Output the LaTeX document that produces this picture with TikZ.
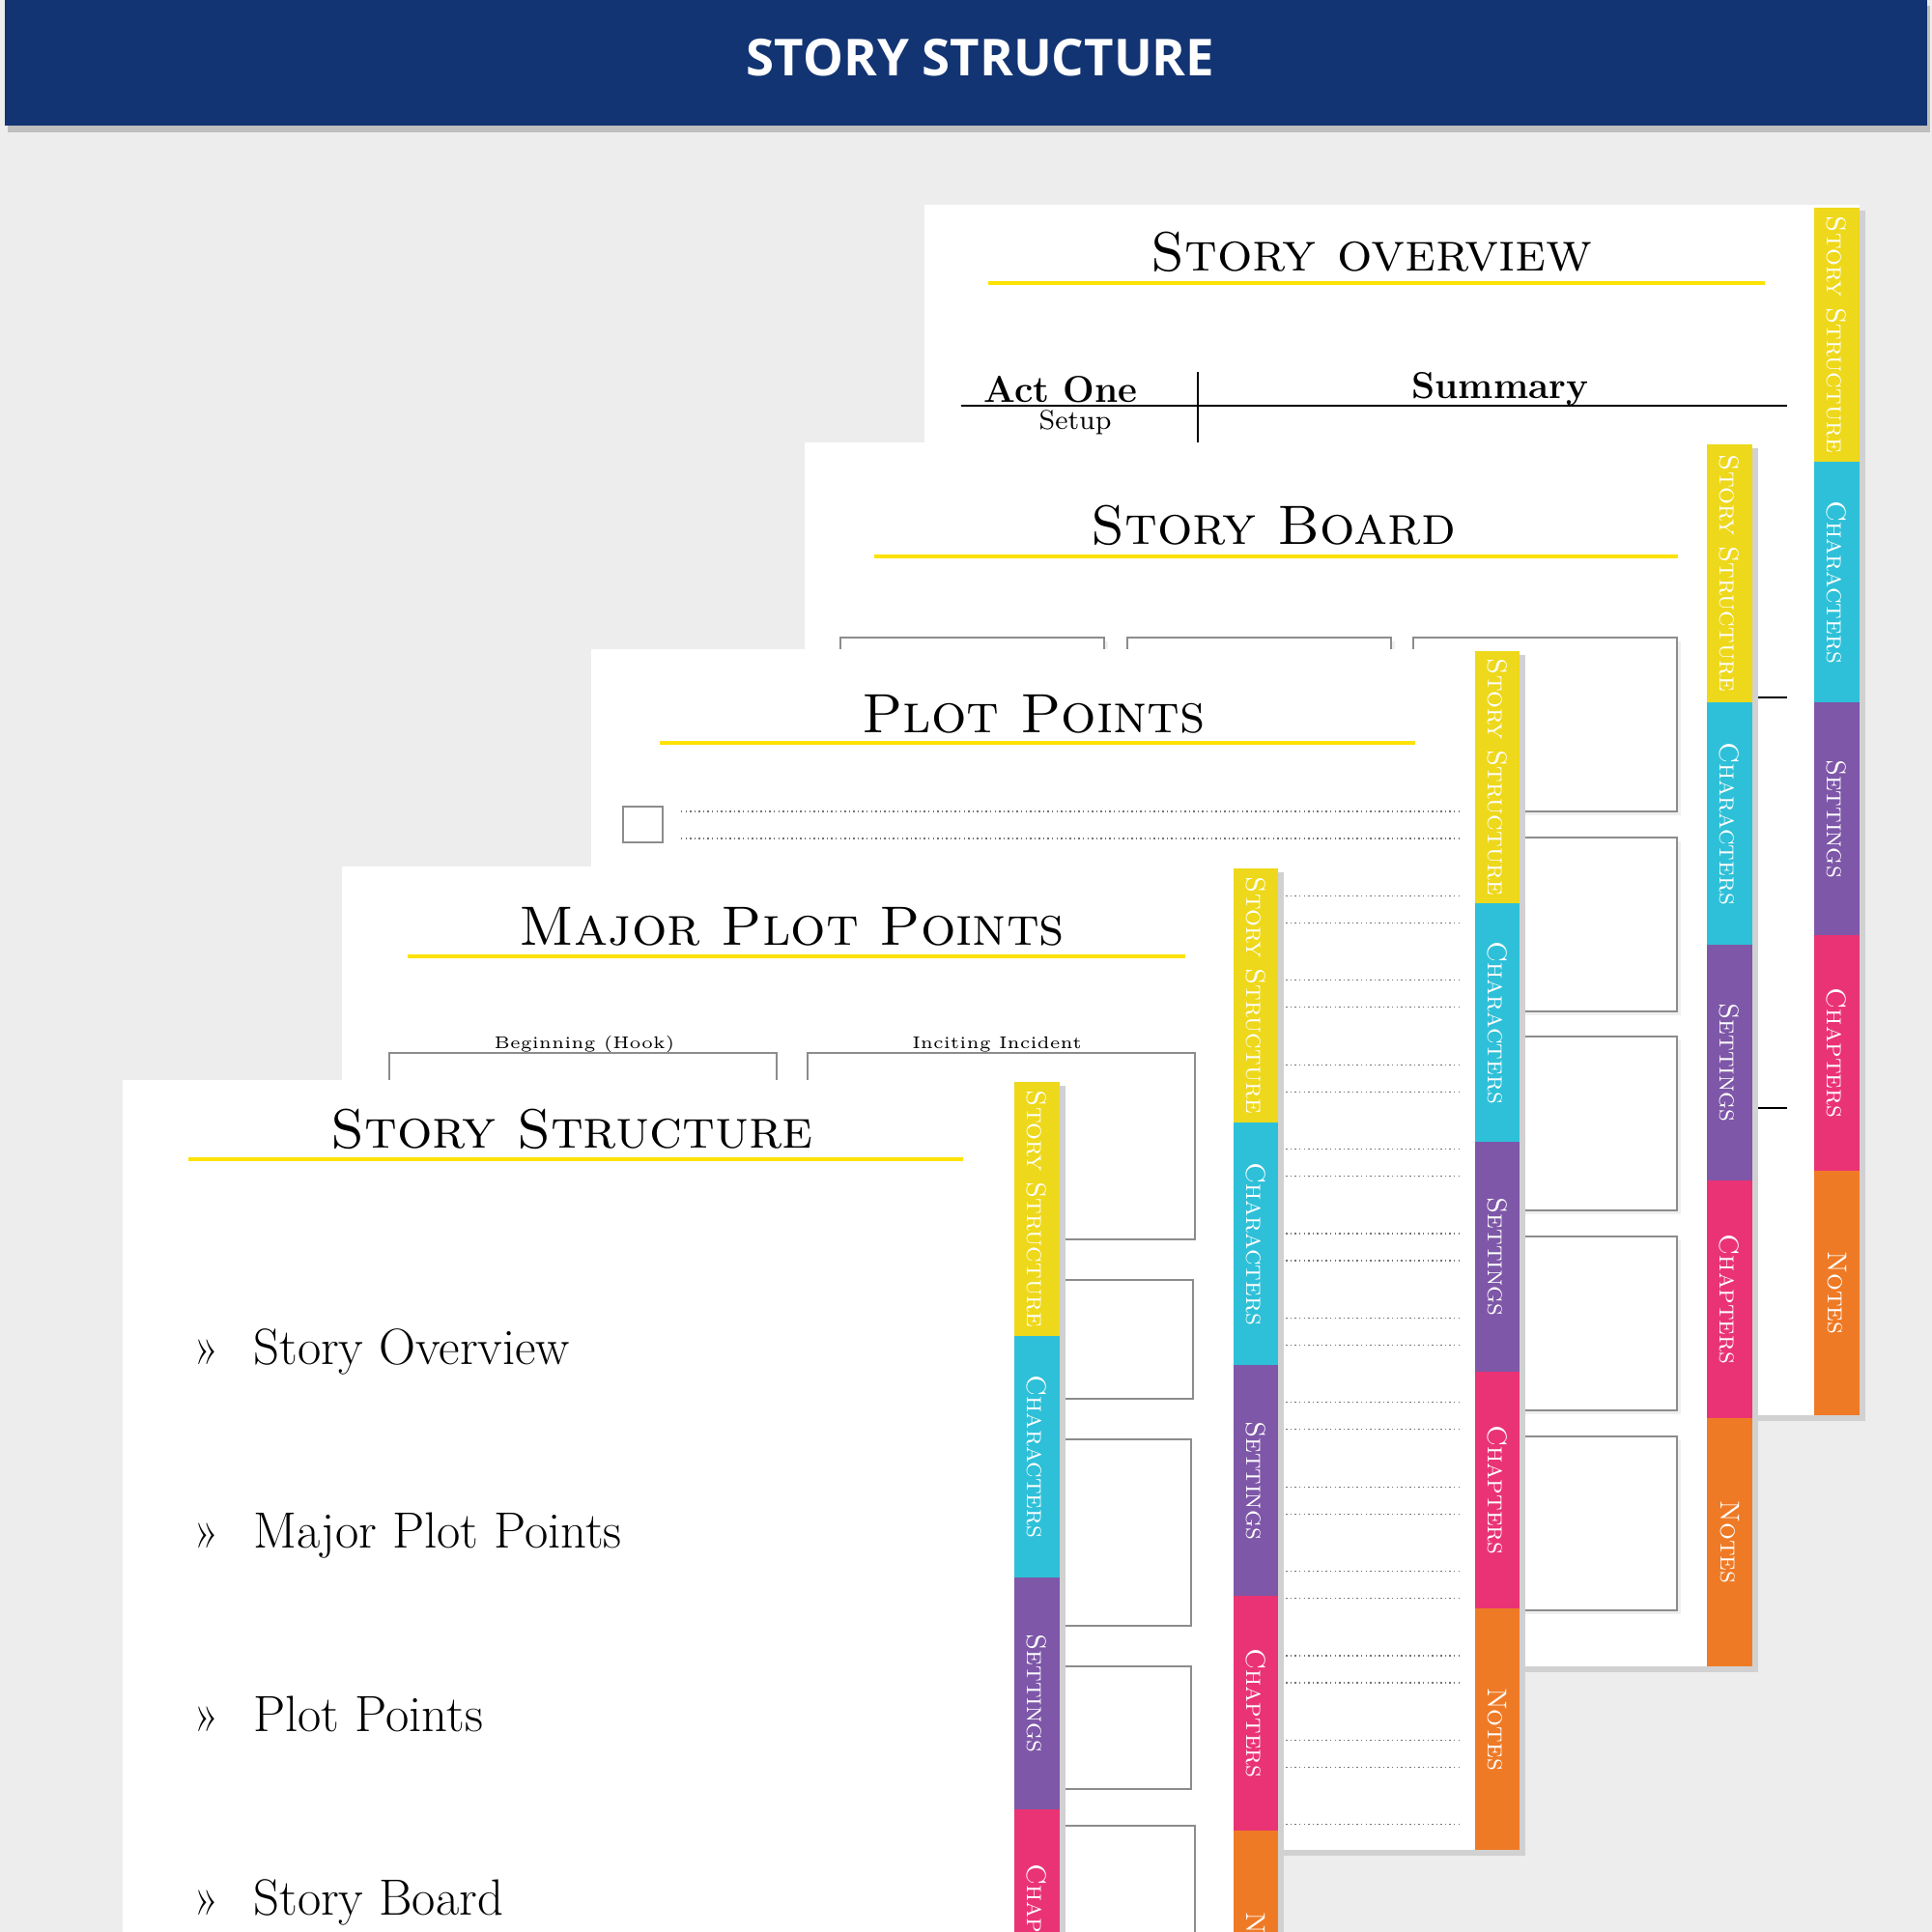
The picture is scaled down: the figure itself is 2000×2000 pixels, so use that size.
\documentclass[tikz,border=0pt]{standalone}
\usepackage{fontspec}
\newfontfamily\bannerfont{Open Sans}
\begin{document}
\begin{tikzpicture}[x=0.01cm,y=-0.01cm,
  page/.style={fill=white},
  shadowbox/.style={fill=black!18},
  ttl/.style={font=\fontsize{16.3}{16}\selectfont\scshape,anchor=base},
  yline/.style={draw=yellow!85!orange,line width=1.1pt},
  tablabel/.style={font=\fontsize{8}{8}\selectfont\scshape,text=white,rotate=-90},
  item/.style={font=\fontsize{15}{15}\selectfont,anchor=base west},
  dotl/.style={draw=black!55,dash pattern=on 0.4pt off 0.9pt,line width=0.35pt},
  sbox/.style={draw=black!45,line width=0.5pt}]
\definecolor{navy}{HTML}{123473}
\definecolor{tyel}{HTML}{EED81B}
\definecolor{tcya}{HTML}{2EC0D8}
\definecolor{tpur}{HTML}{7E57A8}
\definecolor{tpnk}{HTML}{EA3375}
\definecolor{tora}{HTML}{EF7A25}
\fill[black!7] (0,0) rectangle (2000,2000);
\useasboundingbox (0,0) rectangle (2000,2000);
% banner
\fill[black!25] (8,6) rectangle (1998,137);
\fill[navy] (5,0) rectangle (1995,130);
\node[font=\bannerfont\fontsize{15}{15}\selectfont\bfseries,text=white] (banner) at (1015,60) {STORY STRUCTURE};
% tabs macro
\newcommand\mytabs[8]{% x1,x2,y0,y1,y2,y3,y4,y5
  \fill[tyel] (#1,#3) rectangle (#2,#4);
  \fill[tcya] (#1,#4) rectangle (#2,#5);
  \fill[tpur] (#1,#5) rectangle (#2,#6);
  \fill[tpnk] (#1,#6) rectangle (#2,#7);
  \fill[tora] (#1,#7) rectangle (#2,#8);
  \path (#1,#3) -- (#2,#4) node[midway,tablabel] {Story Structure};
  \path (#1,#4) -- (#2,#5) node[midway,tablabel] {Characters};
  \path (#1,#5) -- (#2,#6) node[midway,tablabel] {Settings};
  \path (#1,#6) -- (#2,#7) node[midway,tablabel] {Chapters};
  \path (#1,#7) -- (#2,#8) node[midway,tablabel] {Notes};
}
% page 1: story overview
\fill[shadowbox] (963,218) rectangle (1931,1471);
\fill[page] (957,212) rectangle (1925,1465);
\node[ttl] (t1) at (1420,280) {Story overview};
\draw[yline] (1023,293) -- (1827,293);
\node[font=\fontsize{11}{11}\selectfont\bfseries] (a1) at (1098,403) {Act One};
\node[font=\fontsize{8}{8}\selectfont] (a2) at (1113,437) {Setup};
\node[font=\fontsize{11}{11}\selectfont\bfseries] (a3) at (1553,403) {Summary};
\draw[line width=0.8pt] (1240,385) -- (1240,458);
\draw[line width=0.6pt] (995,420) -- (1850,420);
\draw[line width=0.5pt] (1800,722) -- (1850,722) (1800,1147) -- (1850,1147);
\mytabs{1878}{1925}{215}{478}{727}{968}{1212}{1465}
% page 2: story board
\fill[shadowbox] (839,464) rectangle (1820,1731);
\fill[page] (833,458) rectangle (1814,1725);
\node[ttl] (t2) at (1318,563) {Story Board};
\draw[yline] (905,576) -- (1737,576);
\foreach \x in {870,1167,1463}{
  \foreach \y in {660,867,1073,1280,1487}{
    \fill[black!6] (\x+4,\y+4) rectangle (\x+277,\y+184);
    \draw[sbox,fill=white] (\x,\y) rectangle (\x+273,\y+180);}}
\mytabs{1767}{1814}{460}{727}{978}{1222}{1468}{1725}
% page 3: plot points
\fill[shadowbox] (618,678) rectangle (1579,1921);
\fill[page] (612,672) rectangle (1573,1915);
\node[ttl] (t3) at (1070,758) {Plot Points};
\draw[yline] (683,769) -- (1465,769);
\draw[sbox] (645,835) rectangle (686,872);
\foreach \k in {0,...,12}{
  \draw[dotl] (705,840+87.4*\k) -- (1510,840+87.4*\k);
  \ifnum\k<12 \draw[dotl] (705,868+87.4*\k) -- (1510,868+87.4*\k);\fi}
\mytabs{1527}{1573}{674}{935}{1182}{1420}{1665}{1915}
% page 4: major plot points
\fill[shadowbox] (360,903) rectangle (1329,2006);
\fill[page] (354,897) rectangle (1323,2000);
\node[ttl] (t4) at (820,978) {Major Plot Points};
\draw[yline] (422,990) -- (1227,990);
\node[font=\fontsize{5}{5}\selectfont] (l1) at (605,1081) {Beginning (Hook)};
\node[font=\fontsize{5}{5}\selectfont] (l2) at (1032,1081) {Inciting Incident};
\draw[sbox] (403,1090) rectangle (804,1283);
\draw[sbox] (836,1090) rectangle (1237,1283);
\draw[sbox] (836,1325) rectangle (1235,1448);
\draw[sbox] (836,1490) rectangle (1233,1683);
\draw[sbox] (836,1725) rectangle (1233,1852);
\draw[sbox] (836,1890) rectangle (1237,2030);
\mytabs{1277}{1323}{899}{1162}{1413}{1652}{1895}{2150}
% page 5: story structure
\fill[shadowbox] (133,1124) rectangle (1103,2006);
\fill[page] (127,1118) rectangle (1097,2000);
\node[ttl] (t5) at (592,1188) {Story Structure};
\draw[yline] (195,1200) -- (997,1200);
\foreach \y/\t [count=\i] in {1412/Story Overview,1602/Major Plot Points,1792/Plot Points,1982/Story Board}{
  \node[item] (m\i) at (188,\y) {»};
  \node[item] (n\i) at (250,\y) {\t};}
\begin{scope}
\clip (0,0) rectangle (2000,2000);
\mytabs{1050}{1097}{1120}{1383}{1633}{1873}{2120}{2370}
\end{scope}
\end{tikzpicture}
\end{document}
